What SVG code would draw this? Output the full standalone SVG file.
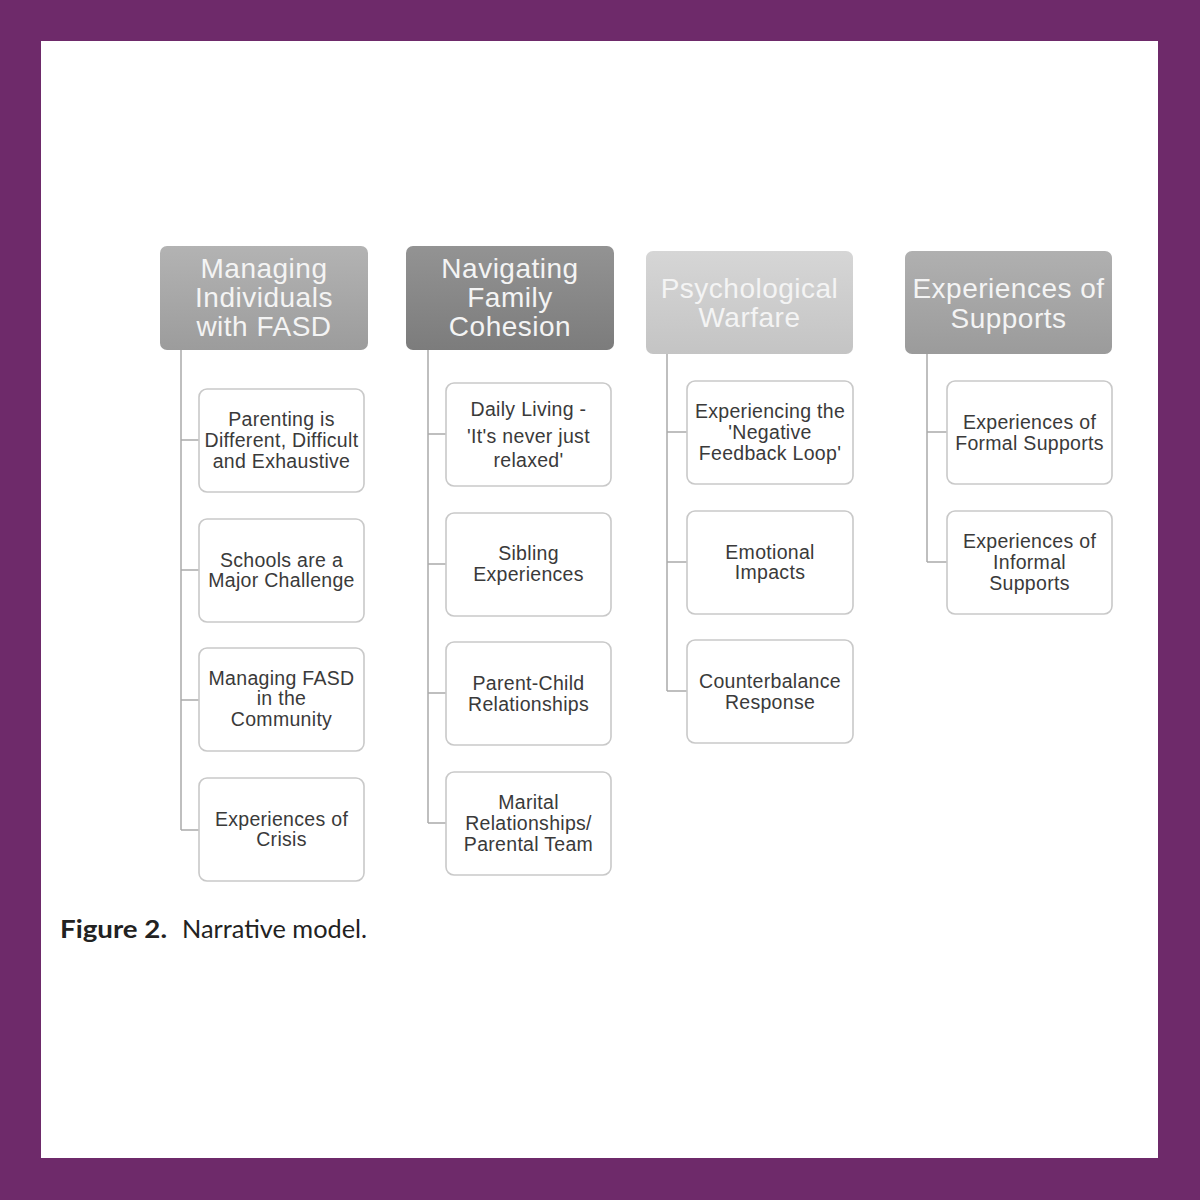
<svg xmlns="http://www.w3.org/2000/svg" width="1200" height="1200" viewBox="0 0 1200 1200">
<defs>
<linearGradient id="g1" x1="0" y1="0" x2="0" y2="1"><stop offset="0" stop-color="#b3b3b3"/><stop offset="1" stop-color="#9c9c9c"/></linearGradient>
<linearGradient id="g2" x1="0" y1="0" x2="0" y2="1"><stop offset="0" stop-color="#939393"/><stop offset="1" stop-color="#7c7c7c"/></linearGradient>
<linearGradient id="g3" x1="0" y1="0" x2="0" y2="1"><stop offset="0" stop-color="#d6d6d6"/><stop offset="1" stop-color="#c4c4c4"/></linearGradient>
<linearGradient id="g4" x1="0" y1="0" x2="0" y2="1"><stop offset="0" stop-color="#b0b0b0"/><stop offset="1" stop-color="#9b9b9b"/></linearGradient>
</defs>
<style>
.hdr{font-family:"Liberation Sans",Arial,sans-serif;font-size:28px;fill:#f4f4f4;text-anchor:middle;letter-spacing:0.5px}
.box{fill:#ffffff;stroke:#c9c9c9;stroke-width:1.6}
.lbl{font-family:"Liberation Sans",Arial,sans-serif;font-size:19.5px;fill:#3a3a3a;text-anchor:middle;letter-spacing:0.3px}
.con{fill:none;stroke:#ababab;stroke-width:1.5}
</style>
<rect x="0" y="0" width="1200" height="1200" fill="#6e2a6a"/>
<rect x="41" y="41" width="1117" height="1117" fill="#ffffff"/>

<g id="connectors">
<path class="con" d="M181 350 V830 M181 440 H199 M181 570 H199 M181 700 H199 M181 830 H199"/>
<path class="con" d="M428 350 V823 M428 434 H446 M428 564 H446 M428 693 H446 M428 823 H446"/>
<path class="con" d="M667 354 V691 M667 432 H687 M667 562 H687 M667 691 H687"/>
<path class="con" d="M927 354 V562 M927 432 H947 M927 562 H947"/>
</g>

<g id="h1"><rect x="160" y="246" width="208" height="104" rx="7" fill="url(#g1)"/>
<text class="hdr" x="264" y="278">Managing</text><text class="hdr" x="264" y="307">Individuals</text><text class="hdr" x="264" y="336">with FASD</text></g>
<g id="h2"><rect x="406" y="246" width="208" height="104" rx="7" fill="url(#g2)"/>
<text class="hdr" x="510" y="278">Navigating</text><text class="hdr" x="510" y="307">Family</text><text class="hdr" x="510" y="336">Cohesion</text></g>
<g id="h3"><rect x="646" y="251" width="207" height="103" rx="7" fill="url(#g3)"/>
<text class="hdr" x="749.5" y="298">Psychological</text><text class="hdr" x="749.5" y="327">Warfare</text></g>
<g id="h4"><rect x="905" y="251" width="207" height="103" rx="7" fill="url(#g4)"/>
<text class="hdr" x="1008.5" y="298">Experiences of</text><text class="hdr" x="1008.5" y="328">Supports</text></g>

<g id="c1a"><rect class="box" x="199" y="389" width="165" height="103" rx="8"/>
<text class="lbl" x="281.5" y="426">Parenting is</text><text class="lbl" x="281.5" y="447">Different, Difficult</text><text class="lbl" x="281.5" y="468">and Exhaustive</text></g>
<g id="c1b"><rect class="box" x="199" y="519" width="165" height="103" rx="8"/>
<text class="lbl" x="281.5" y="567">Schools are a</text><text class="lbl" x="281.5" y="587">Major Challenge</text></g>
<g id="c1c"><rect class="box" x="199" y="648" width="165" height="103" rx="8"/>
<text class="lbl" x="281.5" y="685">Managing FASD</text><text class="lbl" x="281.5" y="705">in the</text><text class="lbl" x="281.5" y="726">Community</text></g>
<g id="c1d"><rect class="box" x="199" y="778" width="165" height="103" rx="8"/>
<text class="lbl" x="281.5" y="826">Experiences of</text><text class="lbl" x="281.5" y="846">Crisis</text></g>

<g id="c2a"><rect class="box" x="446" y="383" width="165" height="103" rx="8"/>
<text class="lbl" x="528.5" y="416">Daily Living -</text><text class="lbl" x="528.5" y="443">'It's never just</text><text class="lbl" x="528.5" y="467">relaxed'</text></g>
<g id="c2b"><rect class="box" x="446" y="513" width="165" height="103" rx="8"/>
<text class="lbl" x="528.5" y="560">Sibling</text><text class="lbl" x="528.5" y="581">Experiences</text></g>
<g id="c2c"><rect class="box" x="446" y="642" width="165" height="103" rx="8"/>
<text class="lbl" x="528.5" y="690">Parent-Child</text><text class="lbl" x="528.5" y="711">Relationships</text></g>
<g id="c2d"><rect class="box" x="446" y="772" width="165" height="103" rx="8"/>
<text class="lbl" x="528.5" y="809">Marital</text><text class="lbl" x="528.5" y="830">Relationships/</text><text class="lbl" x="528.5" y="851">Parental Team</text></g>

<g id="c3a"><rect class="box" x="687" y="381" width="166" height="103" rx="8"/>
<text class="lbl" x="770" y="418">Experiencing the</text><text class="lbl" x="770" y="439">'Negative</text><text class="lbl" x="770" y="460">Feedback Loop'</text></g>
<g id="c3b"><rect class="box" x="687" y="511" width="166" height="103" rx="8"/>
<text class="lbl" x="770" y="559">Emotional</text><text class="lbl" x="770" y="579">Impacts</text></g>
<g id="c3c"><rect class="box" x="687" y="640" width="166" height="103" rx="8"/>
<text class="lbl" x="770" y="688">Counterbalance</text><text class="lbl" x="770" y="709">Response</text></g>

<g id="c4a"><rect class="box" x="947" y="381" width="165" height="103" rx="8"/>
<text class="lbl" x="1029.5" y="429">Experiences of</text><text class="lbl" x="1029.5" y="450">Formal Supports</text></g>
<g id="c4b"><rect class="box" x="947" y="511" width="165" height="103" rx="8"/>
<text class="lbl" x="1029.5" y="548">Experiences of</text><text class="lbl" x="1029.5" y="569">Informal</text><text class="lbl" x="1029.5" y="590">Supports</text></g>

<g id="caption" font-family="Lato,'Open Sans',sans-serif" font-size="25" fill="#222">
<text x="60" y="938" font-weight="bold" textLength="107" lengthAdjust="spacingAndGlyphs">Figure 2.</text>
<text x="182" y="938" textLength="185" lengthAdjust="spacingAndGlyphs">Narrative model.</text>
</g>
</svg>
